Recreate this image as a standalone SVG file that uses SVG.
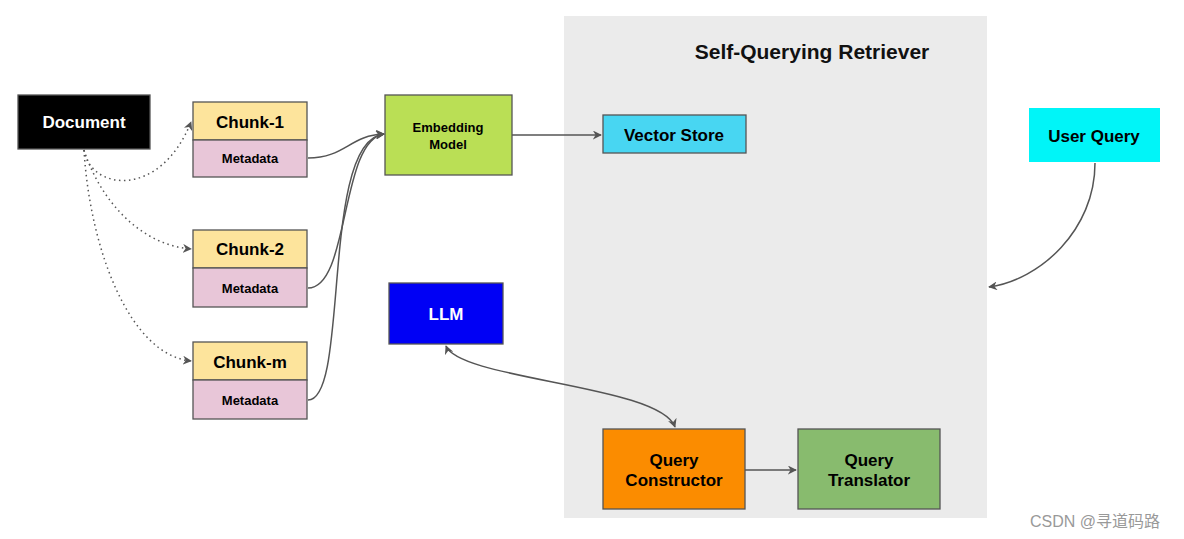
<svg xmlns="http://www.w3.org/2000/svg" width="1184" height="539" viewBox="0 0 1184 539">
<style>
.b{stroke:#555;stroke-width:1.3}
.t{font-family:"Liberation Sans",Arial,sans-serif;font-weight:bold;text-anchor:middle;dominant-baseline:central}
.c{fill:none;stroke:#555;stroke-width:1.5}
.d{fill:none;stroke:#555;stroke-width:1.5;stroke-dasharray:1.5 3.5}
</style>
<defs>
<marker id="a" viewBox="0 0 10 10" refX="9" refY="5" markerWidth="9" markerHeight="9" orient="auto-start-reverse" markerUnits="userSpaceOnUse"><path d="M0,0 L10,5 L0,10 L3,5 Z" fill="#555"/></marker>
</defs>
<rect width="1184" height="539" fill="#fff"/>
<g id="panel"><rect x="564" y="16" width="423" height="502" fill="#ebebeb"/><text class="t" x="812" y="51" font-size="21" fill="#111">Self-Querying Retriever</text></g>
<g id="document"><rect class="b" x="18" y="95" width="132" height="54" fill="#000"/><text class="t" x="84" y="122" font-size="17" fill="#fff">Document</text></g>
<g id="chunk1"><rect class="b" x="193" y="102" width="114" height="38" fill="#fde49c"/><rect class="b" x="193" y="140" width="114" height="37" fill="#e8c6d8"/><text class="t" x="250" y="122" font-size="17">Chunk-1</text><text class="t" x="250" y="158" font-size="13">Metadata</text></g>
<g id="chunk2"><rect class="b" x="193" y="230" width="114" height="38" fill="#fde49c"/><rect class="b" x="193" y="268" width="114" height="39" fill="#e8c6d8"/><text class="t" x="250" y="249" font-size="17">Chunk-2</text><text class="t" x="250" y="288" font-size="13">Metadata</text></g>
<g id="chunkm"><rect class="b" x="193" y="342" width="114" height="38" fill="#fde49c"/><rect class="b" x="193" y="380" width="114" height="39" fill="#e8c6d8"/><text class="t" x="250" y="362" font-size="17">Chunk-m</text><text class="t" x="250" y="400" font-size="13">Metadata</text></g>
<g id="embedding"><rect class="b" x="385" y="95" width="127" height="80" fill="#badf55"/><text class="t" x="448" y="127" font-size="13">Embedding</text><text class="t" x="448" y="144" font-size="13">Model</text></g>
<g id="llm"><rect class="b" x="389" y="283" width="114" height="61" fill="#0000f5"/><text class="t" x="446" y="314" font-size="17" fill="#fff">LLM</text></g>
<g id="vector"><rect class="b" x="603" y="115" width="143" height="38" fill="#48d6f2"/><text class="t" x="674" y="135" font-size="17">Vector Store</text></g>
<g id="userquery"><rect x="1029" y="108" width="131" height="54" fill="#00f5f8"/><text class="t" x="1094" y="136" font-size="17">User Query</text></g>
<g id="constructor"><rect class="b" x="603" y="429" width="142" height="80" fill="#fb8c00"/><text class="t" x="674" y="460" font-size="17">Query</text><text class="t" x="674" y="480" font-size="17">Constructor</text></g>
<g id="translator"><rect class="b" x="798" y="429" width="142" height="80" fill="#88bb6e"/><text class="t" x="869" y="460" font-size="17">Query</text><text class="t" x="869" y="480" font-size="17">Translator</text></g>
<g id="connectors">
<path class="d" d="M84,150 C90,190 160,200 191,122" marker-end="url(#a)"/>
<path class="d" d="M84,150 C100,200 140,245 191,249" marker-end="url(#a)"/>
<path class="d" d="M84,150 C90,250 130,355 191,361" marker-end="url(#a)"/>
<path class="c" d="M308,158 C345,158 350,135 384,134" marker-end="url(#a)"/>
<path class="c" d="M308,288 C350,288 340,140 384,134" marker-end="url(#a)"/>
<path class="c" d="M308,400 C350,400 320,140 384,134" marker-end="url(#a)"/>
<path class="c" d="M512,135 L601,135" marker-end="url(#a)"/>
<path class="c" d="M1095,163 C1095,230 1040,280 989,287" marker-end="url(#a)"/>
<path class="c" d="M745,470 L796,470" marker-end="url(#a)"/>
<path class="c" d="M446,346 C460,380 660,385 675,427" marker-start="url(#a)" marker-end="url(#a)"/>
</g>
<text x="1030" y="527" font-family="Liberation Sans,'Noto Sans CJK SC',sans-serif" font-size="16" fill="#999">CSDN @寻道码路</text>
</svg>
